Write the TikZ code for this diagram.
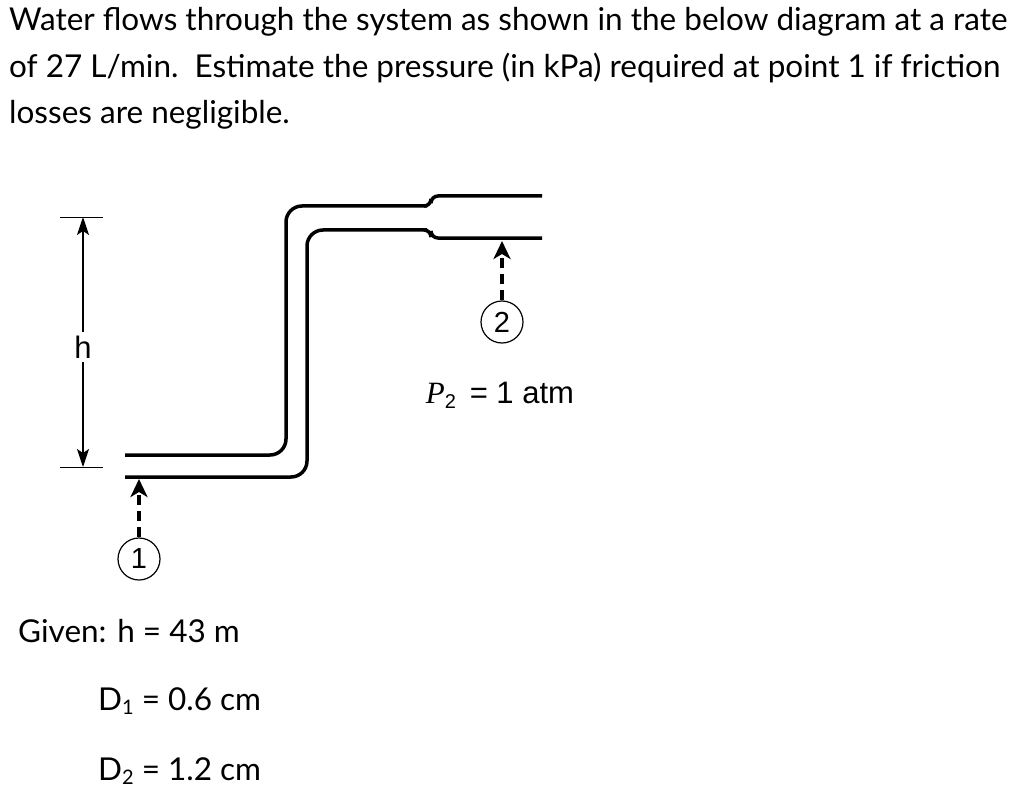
\documentclass[tikz,border=0pt]{standalone}
\usepackage{fontspec}
\setmainfont{Lato}
\newfontfamily\helv{Liberation Sans}
\newfontfamily\tnr{Liberation Serif}
\usetikzlibrary{arrows.meta}
\newcommand\mysub[1]{\raisebox{-0.3ex}{\fontsize{20}{20}\selectfont #1}}
\begin{document}
\begin{tikzpicture}[x=1pt,y=-1pt,
  pipe/.style={line width=3.5pt,rounded corners=16pt},
  thin/.style={line width=0.8pt},
  dim/.style={line width=1.5pt,-{Stealth[length=18pt,width=12pt,inset=4pt]}},
  ptr/.style={line width=3.5pt,dash pattern=on 10pt off 6pt,-{Stealth[length=18pt,width=17pt,inset=5pt]}},
  circ/.style={circle,draw,line width=1.2pt,minimum size=42pt,inner sep=0pt,font=\helv\fontsize{29}{29}\selectfont},
  txt/.style={anchor=west,inner sep=0pt,font=\fontsize{31.5}{31.5}\selectfont}]
\useasboundingbox (0,0) rectangle (1024,810);
\node[txt] (t1) at (9,22) {Water flows through the system as shown in the below diagram at a rate};
\node[txt] (t2) at (9,68) {of 27 L/min.\ \ Estimate the pressure (in kPa) required at point 1 if friction};
\node[txt] (t3) at (9,115) {losses are negligible.};
% pipes
\draw[pipe] (125,455) -- (286,455) -- (286,206) -- (427,206);
\draw[pipe] (125,477) -- (307,477) -- (307,230) -- (427,230);
\draw[line width=3.5pt,rounded corners=7pt] (426,206) -- (431,206) -- (431,196) -- (542,196);
\draw[line width=3.5pt,rounded corners=7pt] (426,230) -- (431,230) -- (431,238) -- (542,238);
% h dimension
\coordinate (ht) at (83,217); \coordinate (hb) at (83,467);
\draw[thin] (60,217) -- (103,217); \draw[thin] (60,467) -- (103,467);
\node[font=\helv\fontsize{31}{31}\selectfont,fill=white,inner sep=4pt] (h) at (83,347) {h};
\draw[dim] (h) -- (ht);
\draw[dim] (h) -- (hb);
% points
\node[circ] (c1) at (139,559) {1};
\coordinate (a1) at (139,479);
\draw[ptr] (c1) -- (a1);
\node[circ] (c2) at (502,322) {2};
\coordinate (a2) at (502,241);
\draw[ptr] (c2) -- (a2);
\node[font=\helv\fontsize{31}{31}\selectfont] (p2) at (500,395) {{\tnr\itshape P}\mysub{2}\, = 1 atm};
% given
\node[txt] (g) at (18,631) {Given: h = 43 m};
\node[txt] (d1) at (98,701) {D\mysub{1} = 0.6 cm};
\node[txt] (d2) at (98,771) {D\mysub{2} = 1.2 cm};
\end{tikzpicture}
\end{document}
